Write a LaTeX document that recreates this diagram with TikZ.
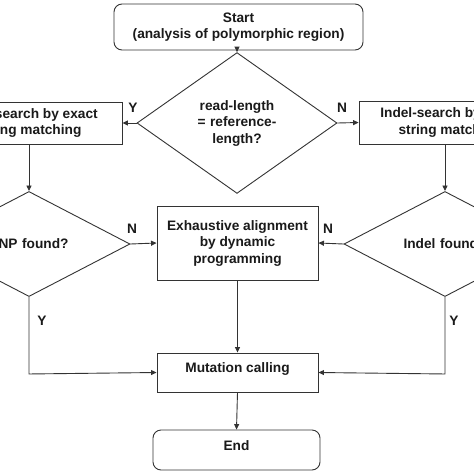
\documentclass[tikz,border=0pt]{standalone}
\usepackage{fontspec}
\setmainfont{Liberation Sans}
\usetikzlibrary{shapes.geometric,arrows.meta}
\definecolor{lineclr}{HTML}{333333}
\definecolor{txtclr}{HTML}{1A1A1A}
\tikzset{
  x=1pt,y=-1pt,
  every node/.style={font=\fontsize{13.7}{16.5}\selectfont\bfseries, text=txtclr},
  boxbase/.style={draw=lineclr, line width=0.9pt, align=center, inner sep=0pt},
  procbox/.style={boxbase, rectangle},
  termbox/.style={boxbase, rectangle, rounded corners=8pt},
  decbox/.style={boxbase, diamond, text width=95pt},
  conn/.style={draw=lineclr, line width=0.9pt, -{Triangle[length=5.5pt,width=5pt]}},
  plainline/.style={draw=lineclr, line width=0.9pt},
  lbl/.style={inner sep=0pt, anchor=center}
}
\begin{document}
\begin{tikzpicture}
\useasboundingbox (0,0) rectangle (474,474);
\clip (0,0) rectangle (474,474);
\fill[white] (0,0) rectangle (474,474);

\node[termbox, minimum width=249pt, minimum height=46pt] (start) at (238.5,27) {Start\\(analysis of polymorphic region)};
\node[decbox, minimum width=200pt, minimum height=105pt] (d1) at (237,123) {read-length\\= reference-\\length?};
\node[procbox, minimum width=184pt, minimum height=42pt] (lbox) at (30,123) {SNP-search by exact\\string matching};
\node[procbox, minimum width=182pt, minimum height=43pt] (rbox) at (450,122.5) {Indel-search by exact\\string matching};
\node[decbox, minimum width=202pt, minimum height=104pt] (dl) at (29,244) {SNP found?};
\node[decbox, minimum width=202pt, minimum height=104pt] (dr) at (445,244) {Indel found?};
\node[procbox, minimum width=161pt, minimum height=74pt] (ex) at (237.5,243) {Exhaustive alignment\\by dynamic\\programming};
\node[procbox, minimum width=161pt, minimum height=39pt, text depth=10pt] (mut) at (237.5,372.5) {Mutation calling};
\node[termbox, minimum width=167pt, minimum height=40pt, text depth=8pt] (end) at (236.5,450) {End};

\path[conn] (start.south -| d1.north) -- (d1.north);
\path[conn] (d1.west) -- (lbox.east);
\path[conn] (d1.east) -- (rbox.west);
\path[conn] (dl.north |- lbox.south) -- (dl.north);
\path[conn] (dr.north |- rbox.south) -- (dr.north);
\path[conn] (dl.east) -- (ex.west);
\path[conn] (dr.west) -- (ex.east);
\path[conn] (ex.south) -- (mut.north);
\path[conn] (dl.south) -- ++(0,77) -- (mut.west);
\path[conn] (dr.south) -- ++(0,77) -- (mut.east);
\path[conn] (mut.south) -- (end.north);

\node[lbl] (y1) at (133,108) {Y};
\node[lbl] (n1) at (342,108) {N};
\node[lbl] (n2) at (132,229) {N};
\node[lbl] (n3) at (328,229) {N};
\node[lbl] (y2) at (42,321) {Y};
\node[lbl] (y3) at (454,321) {Y};
\end{tikzpicture}
\end{document}
